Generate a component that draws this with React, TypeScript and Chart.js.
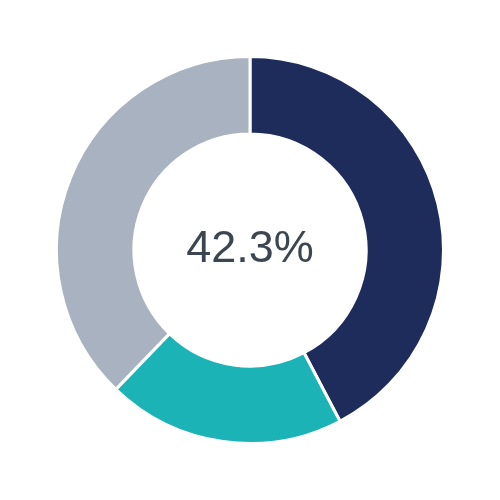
import { useEffect, useRef } from "react"
import { Chart, registerables } from "chart.js"

Chart.register(...registerables)

const labels = ["Segment A", "Segment B", "Segment C"]
const values = [42.3, 19.9, 37.8]
const colors = ["#1d2c5b", "#1bb3b5", "#a8b2c0"]
const centerLabel = "42.3%"

export default function App() {
  const chartRef = useRef<HTMLCanvasElement>(null)
  const chartInstance = useRef<Chart | null>(null)

  useEffect(() => {
    document.body.style.margin = "0"
    if (!chartRef.current) return
    if (chartInstance.current) chartInstance.current.destroy()

    const ctx = chartRef.current.getContext("2d")
    if (!ctx) return

    chartInstance.current = new Chart(ctx, {
      type: "doughnut",
      data: {
        labels,
        datasets: [
          {
            data: values,
            backgroundColor: colors,
            borderColor: "#ffffff",
            borderWidth: 3,
          },
        ],
      },
      options: {
        responsive: true,
        maintainAspectRatio: false,
        animation: false,
        cutout: "60%",
        layout: { padding: 55 },
        plugins: {
          legend: { display: false },
          tooltip: { enabled: false },
        },
      },
    })

    return () => {
      if (chartInstance.current) {
        chartInstance.current.destroy()
        chartInstance.current = null
      }
    }
  }, [])

  return (
    <div style={{ position: "relative", width: 500, height: 500 }}>
      <canvas ref={chartRef} />
      {/* centre label drawn as html text on top of the hole */}
      <div
        style={{
          position: "absolute",
          left: 0,
          top: -3,
          width: 500,
          height: 500,
          display: "flex",
          alignItems: "center",
          justifyContent: "center",
          fontFamily: "'Liberation Sans', Arial, sans-serif",
          fontSize: 45,
          color: "#3c4651",
          pointerEvents: "none",
        }}
      >
        {centerLabel}
      </div>
    </div>
  )
}
